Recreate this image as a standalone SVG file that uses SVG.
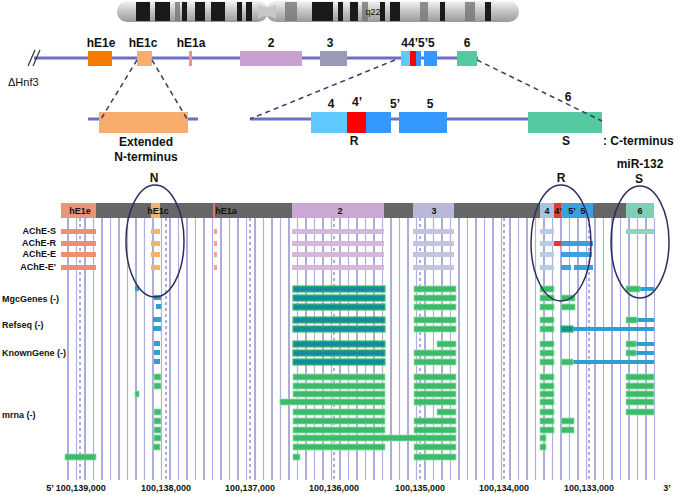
<svg xmlns="http://www.w3.org/2000/svg" width="679" height="495" viewBox="0 0 679 495">
<defs>
<linearGradient id="chr" x1="0" y1="0" x2="0" y2="1"><stop offset="0" stop-color="#f4f4f4"/><stop offset="0.45" stop-color="#c8c8c8"/><stop offset="1" stop-color="#9a9a9a"/></linearGradient>
</defs>
<style>
text{font-family:"Liberation Sans",Arial,sans-serif;fill:#111}
.b{font-weight:bold;font-size:12px}
.s{font-weight:bold;font-size:9px}
.h{font-weight:bold;font-size:9px;fill:#222}
.dash{stroke:#3a3a6a;stroke-width:1.5;stroke-dasharray:5,4;fill:none}
.gl{stroke:#6e6ec8;stroke-width:3}
.g{fill:#3dbb6a;stroke:#8fe0a8;stroke-width:0.8}
.t{fill:#138c9c;stroke:#3dbb6a;stroke-width:1.2}
.bl{fill:#2f9fd0}
.ell{fill:none;stroke:#2e2e5e;stroke-width:1.5}
</style>
<g id="chromosome">
<rect x="117" y="1" width="151" height="21" rx="10" fill="url(#chr)"/>
<rect x="266" y="1" width="253" height="21" rx="10" fill="url(#chr)"/>
<path d="M258 4 Q267 11 276 4 V19 Q267 12 258 19 Z" fill="#c8c8c8"/>
<g fill="#777" opacity="0.8"><rect x="175" y="2" width="5" height="19"/><rect x="285" y="2" width="12" height="19"/><rect x="362" y="2" width="6" height="19"/><rect x="420" y="2" width="8" height="19"/><rect x="465" y="2" width="10" height="19"/></g>
<g fill="#1a1a1a">
<rect x="136" y="2" width="14" height="19"/><rect x="155" y="2" width="15" height="19"/><rect x="182" y="2" width="5" height="19"/><rect x="195" y="2" width="10" height="19"/><rect x="211" y="2" width="14" height="19"/><rect x="237" y="2" width="5" height="19"/><rect x="246" y="2" width="6" height="19"/>
<rect x="312" y="2" width="21" height="19"/><rect x="338" y="2" width="5" height="19"/><rect x="350" y="2" width="8" height="19"/><rect x="380" y="2" width="5" height="19"/><rect x="390" y="2" width="10" height="19"/><rect x="440" y="2" width="5" height="19"/><rect x="485" y="2" width="6" height="19"/>
</g>
<text x="373" y="15" font-size="9" text-anchor="middle">q22</text>
</g>
<g id="gene">
<line class="gl" x1="34" y1="58" x2="478" y2="58"/>
<path d="M28 66 L35 50 M33 66 L40 50" stroke="#333" stroke-width="1.2"/>
<text x="8" y="86" font-size="11">ΔHnf3</text>
<rect x="88" y="51" width="24" height="15" fill="#f57c00"/>
<rect x="137" y="51" width="15" height="15" fill="#f7ad6e"/>
<rect x="189" y="51" width="3" height="15" fill="#f28e8e"/>
<rect x="240" y="51" width="62" height="15" fill="#c9a0d2"/>
<rect x="320" y="51" width="27" height="15" fill="#9a9ab8"/>
<rect x="401" y="51" width="9" height="15" fill="#5ec8ff"/>
<rect x="410" y="51" width="6" height="15" fill="#ff0000"/>
<rect x="416" y="51" width="5" height="15" fill="#3399ff"/>
<rect x="424" y="51" width="13" height="15" fill="#3399ff"/>
<rect x="457" y="51" width="20" height="15" fill="#55c9a0"/>
<g class="b" text-anchor="middle">
<text x="101" y="47">hE1e</text><text x="143" y="47">hE1c</text><text x="191" y="47">hE1a</text><text x="271" y="47">2</text><text x="330" y="47">3</text><text x="418" y="47">44’5’5</text><text x="467" y="47">6</text>
</g>
</g>
<g id="zoom-left">
<line class="gl" x1="88" y1="119" x2="198" y2="119"/>
<rect x="99" y="112" width="89" height="21" fill="#f7ad6e"/>
<text class="b" x="146" y="146" text-anchor="middle">Extended</text>
<text class="b" x="146" y="161" text-anchor="middle">N-terminus</text>
</g>
<g id="zoom-right">
<line class="gl" x1="250" y1="119" x2="528" y2="119"/>
<rect x="311" y="112" width="36" height="21" fill="#5ec8ff"/>
<rect x="347" y="112" width="19" height="21" fill="#ff0000"/>
<rect x="366" y="112" width="25" height="21" fill="#3399ff"/>
<rect x="399" y="112" width="48" height="21" fill="#3399ff"/>
<rect x="528" y="112" width="74" height="21" fill="#55c9a0"/>
<g class="b" text-anchor="middle">
<text x="331" y="108">4</text><text x="357" y="106">4’</text><text x="395" y="108">5’</text><text x="430" y="108">5</text><text x="568" y="101">6</text>
<text x="354" y="145">R</text><text x="566" y="145">S</text>
</g>
<text class="b" x="603" y="145">: C-terminus</text>
<text class="b" x="640" y="168" text-anchor="middle">miR-132</text>
</g>
<g id="connectors">
<path class="dash" d="M137 60 L101 119 M152 60 L187 119 M395 60 L250 119 M477 60 L602 121"/>
</g>
<g id="grid">
<path stroke="#5a5ab8" stroke-width="1" d="M68 218V480M85 218V480M102 218V480M119 218V480M136 218V480M153 218V480M170 218V480M187 218V480M204 218V480M221 218V480M238 218V480M255 218V480M272 218V480M289 218V480M306 218V480M323 218V480M340 218V480M357 218V480M374 218V480M391 218V480M408 218V480M425 218V480M442 218V480M459 218V480M476 218V480M493 218V480M510 218V480M527 218V480M544 218V480M561 218V480M578 218V480M595 218V480M612 218V480M629 218V480M646 218V480"/>
<path stroke="#b0b0e0" stroke-width="1.2" d="M76.5 218V480M93.5 218V480M110.5 218V480M127.5 218V480M144.5 218V480M161.5 218V480M178.5 218V480M195.5 218V480M212.5 218V480M229.5 218V480M246.5 218V480M263.5 218V480M280.5 218V480M297.5 218V480M314.5 218V480M331.5 218V480M348.5 218V480M365.5 218V480M382.5 218V480M399.5 218V480M416.5 218V480M433.5 218V480M450.5 218V480M467.5 218V480M484.5 218V480M501.5 218V480M518.5 218V480M535.5 218V480M552.5 218V480M569.5 218V480M586.5 218V480M603.5 218V480M620.5 218V480M637.5 218V480M654.5 218V480"/>
<path stroke="#5a5ab8" stroke-width="1" stroke-dasharray="3,3" d="M80 218V480M166 218V480M250 218V480M334 218V480M420 218V480M504 218V480M589 218V480"/>
</g>
<g id="header">
<rect x="61" y="203" width="593" height="15" fill="#666"/>
<rect x="61" y="203" width="35" height="15" fill="#e8967a"/>
<rect x="151" y="203" width="9" height="15" fill="#f7b36a"/>
<rect x="213" y="203" width="2" height="15" fill="#e57070"/>
<rect x="292" y="203" width="92" height="15" fill="#c9a8d4"/>
<rect x="413" y="203" width="41" height="15" fill="#b8b8d8"/>
<rect x="540" y="203" width="14" height="15" fill="#a8c4e0"/>
<rect x="554" y="203" width="7" height="15" fill="#e53935"/>
<rect x="561" y="203" width="32" height="15" fill="#3aa0e0"/>
<rect x="626" y="203" width="28" height="15" fill="#7fcfb8"/>
<g class="h" text-anchor="middle">
<text x="80" y="214">hE1e</text><text x="158" y="214">hE1c</text><text x="226" y="214">hE1a</text><text x="340" y="214">2</text><text x="434" y="214">3</text><text x="547" y="214">4</text><text x="558" y="214">4’</text><text x="572" y="214">5’</text><text x="583" y="214">5</text><text x="640" y="214">6</text>
</g>
</g>
<g id="isoforms">
<g class="s" text-anchor="end"><text x="56" y="234">AChE-S</text><text x="56" y="246">AChE-R</text><text x="56" y="257">AChE-E</text><text x="56" y="270">AChE-E'</text></g>
<g fill="#ee9070"><rect x="61" y="229" width="35" height="5"/><rect x="61" y="241" width="35" height="5"/><rect x="61" y="252" width="35" height="5"/><rect x="61" y="265" width="35" height="5"/></g>
<g fill="#f7b36a"><rect x="151" y="229" width="9" height="5"/><rect x="151" y="241" width="9" height="5"/><rect x="151" y="252" width="9" height="5"/><rect x="151" y="265" width="9" height="5"/></g>
<g fill="#f2a0a0"><rect x="214" y="229" width="3" height="5"/><rect x="214" y="241" width="3" height="5"/><rect x="214" y="252" width="3" height="5"/><rect x="214" y="265" width="3" height="5"/></g>
<g fill="#d4b8dc"><rect x="292" y="229" width="92" height="5"/><rect x="292" y="241" width="92" height="5"/><rect x="292" y="252" width="92" height="5"/><rect x="292" y="265" width="92" height="5"/></g>
<g fill="#c4c4e0"><rect x="413" y="229" width="41" height="5"/><rect x="413" y="241" width="41" height="5"/><rect x="413" y="252" width="41" height="5"/><rect x="413" y="265" width="41" height="5"/></g>
<g fill="#b8cce4"><rect x="540" y="229" width="14" height="5"/><rect x="540" y="241" width="14" height="5"/><rect x="540" y="252" width="14" height="5"/><rect x="540" y="265" width="14" height="5"/></g>
<rect x="554" y="241" width="7" height="5" fill="#e53935"/>
<g fill="#3aa0e0"><rect x="561" y="241" width="14" height="5"/><rect x="575" y="241" width="18" height="5"/><rect x="561" y="252" width="31" height="5"/><rect x="561" y="265" width="10" height="5"/><rect x="574" y="265" width="19" height="5"/></g>
<rect x="626" y="229" width="28" height="5" fill="#8fd4c0"/>
</g>
<g id="tracks">
<g class="s"><text x="2" y="302">MgcGenes (-)</text><text x="2" y="328">Refseq (-)</text><text x="2" y="356">KnownGene (-)</text><text x="2" y="418">mrna (-)</text></g>
<g class="bl">
<rect x="135" y="286" width="4" height="5"/><rect x="154" y="295" width="7" height="5"/><rect x="156" y="304" width="5" height="5"/><rect x="153" y="317" width="8" height="5"/><rect x="153" y="326" width="8" height="5"/><rect x="154" y="341" width="6" height="5"/><rect x="154" y="350" width="6" height="5"/><rect x="154" y="359" width="6" height="5"/>
<rect x="640" y="287" width="14" height="4"/><rect x="637" y="318" width="17" height="4"/><rect x="573" y="327" width="81" height="4"/><rect x="636" y="342" width="18" height="4"/><rect x="636" y="351" width="18" height="4"/><rect x="573" y="360" width="81" height="4"/>
</g>
<g class="t">
<rect x="293" y="286" width="92" height="6"/><rect x="293" y="295" width="92" height="6"/><rect x="293" y="304" width="92" height="6"/><rect x="293" y="317" width="92" height="6"/><rect x="293" y="326" width="92" height="6"/><rect x="293" y="341" width="92" height="6"/><rect x="293" y="350" width="92" height="6"/><rect x="293" y="359" width="92" height="6"/>
<rect x="561" y="326" width="12" height="6"/>
</g>
<g class="g">
<rect x="414" y="286" width="42" height="6"/><rect x="414" y="295" width="42" height="6"/><rect x="414" y="304" width="42" height="6"/><rect x="414" y="317" width="42" height="6"/><rect x="414" y="326" width="42" height="6"/><rect x="437" y="341" width="19" height="6"/><rect x="414" y="350" width="42" height="6"/><rect x="414" y="359" width="42" height="6"/>
<rect x="540" y="286" width="14" height="6"/><rect x="540" y="295" width="14" height="6"/><rect x="540" y="304" width="14" height="6"/><rect x="540" y="317" width="14" height="6"/><rect x="540" y="326" width="14" height="6"/><rect x="540" y="341" width="14" height="6"/><rect x="540" y="350" width="14" height="6"/><rect x="540" y="359" width="14" height="6"/>
<rect x="626" y="286" width="14" height="6"/><rect x="561" y="295" width="14" height="6"/><rect x="561" y="304" width="14" height="6"/><rect x="626" y="317" width="11" height="6"/><rect x="626" y="341" width="10" height="6"/><rect x="626" y="350" width="10" height="6"/><rect x="561" y="359" width="12" height="6"/>
<rect x="154" y="374" width="7" height="6"/><rect x="154" y="383" width="7" height="6"/><rect x="135" y="391" width="4" height="6"/><rect x="154" y="409" width="7" height="6"/><rect x="154" y="418" width="7" height="6"/><rect x="154" y="427" width="7" height="6"/><rect x="154" y="435" width="7" height="6"/><rect x="153" y="444" width="7" height="6"/><rect x="65" y="454" width="31" height="6"/>
<rect x="293" y="374" width="92" height="6"/><rect x="293" y="383" width="92" height="6"/><rect x="293" y="391" width="92" height="6"/><rect x="280" y="399" width="105" height="6"/><rect x="293" y="409" width="92" height="6"/><rect x="293" y="418" width="92" height="6"/><rect x="293" y="427" width="92" height="6"/><rect x="293" y="435" width="163" height="6"/><rect x="293" y="444" width="92" height="6"/><rect x="293" y="454" width="7" height="6"/>
<rect x="414" y="374" width="42" height="6"/><rect x="414" y="383" width="42" height="6"/><rect x="414" y="391" width="42" height="6"/><rect x="414" y="399" width="42" height="6"/><rect x="437" y="409" width="19" height="6"/><rect x="414" y="418" width="42" height="6"/><rect x="414" y="427" width="42" height="6"/><rect x="414" y="444" width="42" height="6"/><rect x="414" y="454" width="42" height="6"/>
<rect x="540" y="374" width="14" height="6"/><rect x="540" y="383" width="14" height="6"/><rect x="540" y="391" width="14" height="6"/><rect x="540" y="399" width="14" height="6"/><rect x="540" y="409" width="14" height="6"/><rect x="540" y="418" width="14" height="6"/><rect x="540" y="427" width="14" height="6"/><rect x="540" y="435" width="6" height="6"/><rect x="540" y="444" width="6" height="6"/>
<rect x="561" y="418" width="13" height="6"/><rect x="561" y="427" width="13" height="6"/>
<rect x="626" y="374" width="28" height="6"/><rect x="626" y="383" width="28" height="6"/><rect x="626" y="391" width="28" height="6"/><rect x="626" y="399" width="28" height="6"/><rect x="626" y="409" width="28" height="6"/>
</g>
</g>
<g id="ellipses">
<ellipse class="ell" cx="155" cy="241" rx="29" ry="56"/>
<ellipse class="ell" cx="561" cy="243" rx="30" ry="58"/>
<ellipse class="ell" cx="640" cy="242" rx="29" ry="56"/>
<g class="b" text-anchor="middle"><text x="154" y="182">N</text><text x="561" y="182">R</text><text x="639" y="183">S</text></g>
</g>
<g id="axis">
<g class="s" text-anchor="middle"><text x="76" y="491">5’ 100,139,000</text><text x="166" y="491">100,138,000</text><text x="250" y="491">100,137,000</text><text x="334" y="491">100,136,000</text><text x="420" y="491">100,135,000</text><text x="504" y="491">100,134,000</text><text x="589" y="491">100,133,000</text><text x="667" y="491">3’</text></g>
</g>
</svg>
